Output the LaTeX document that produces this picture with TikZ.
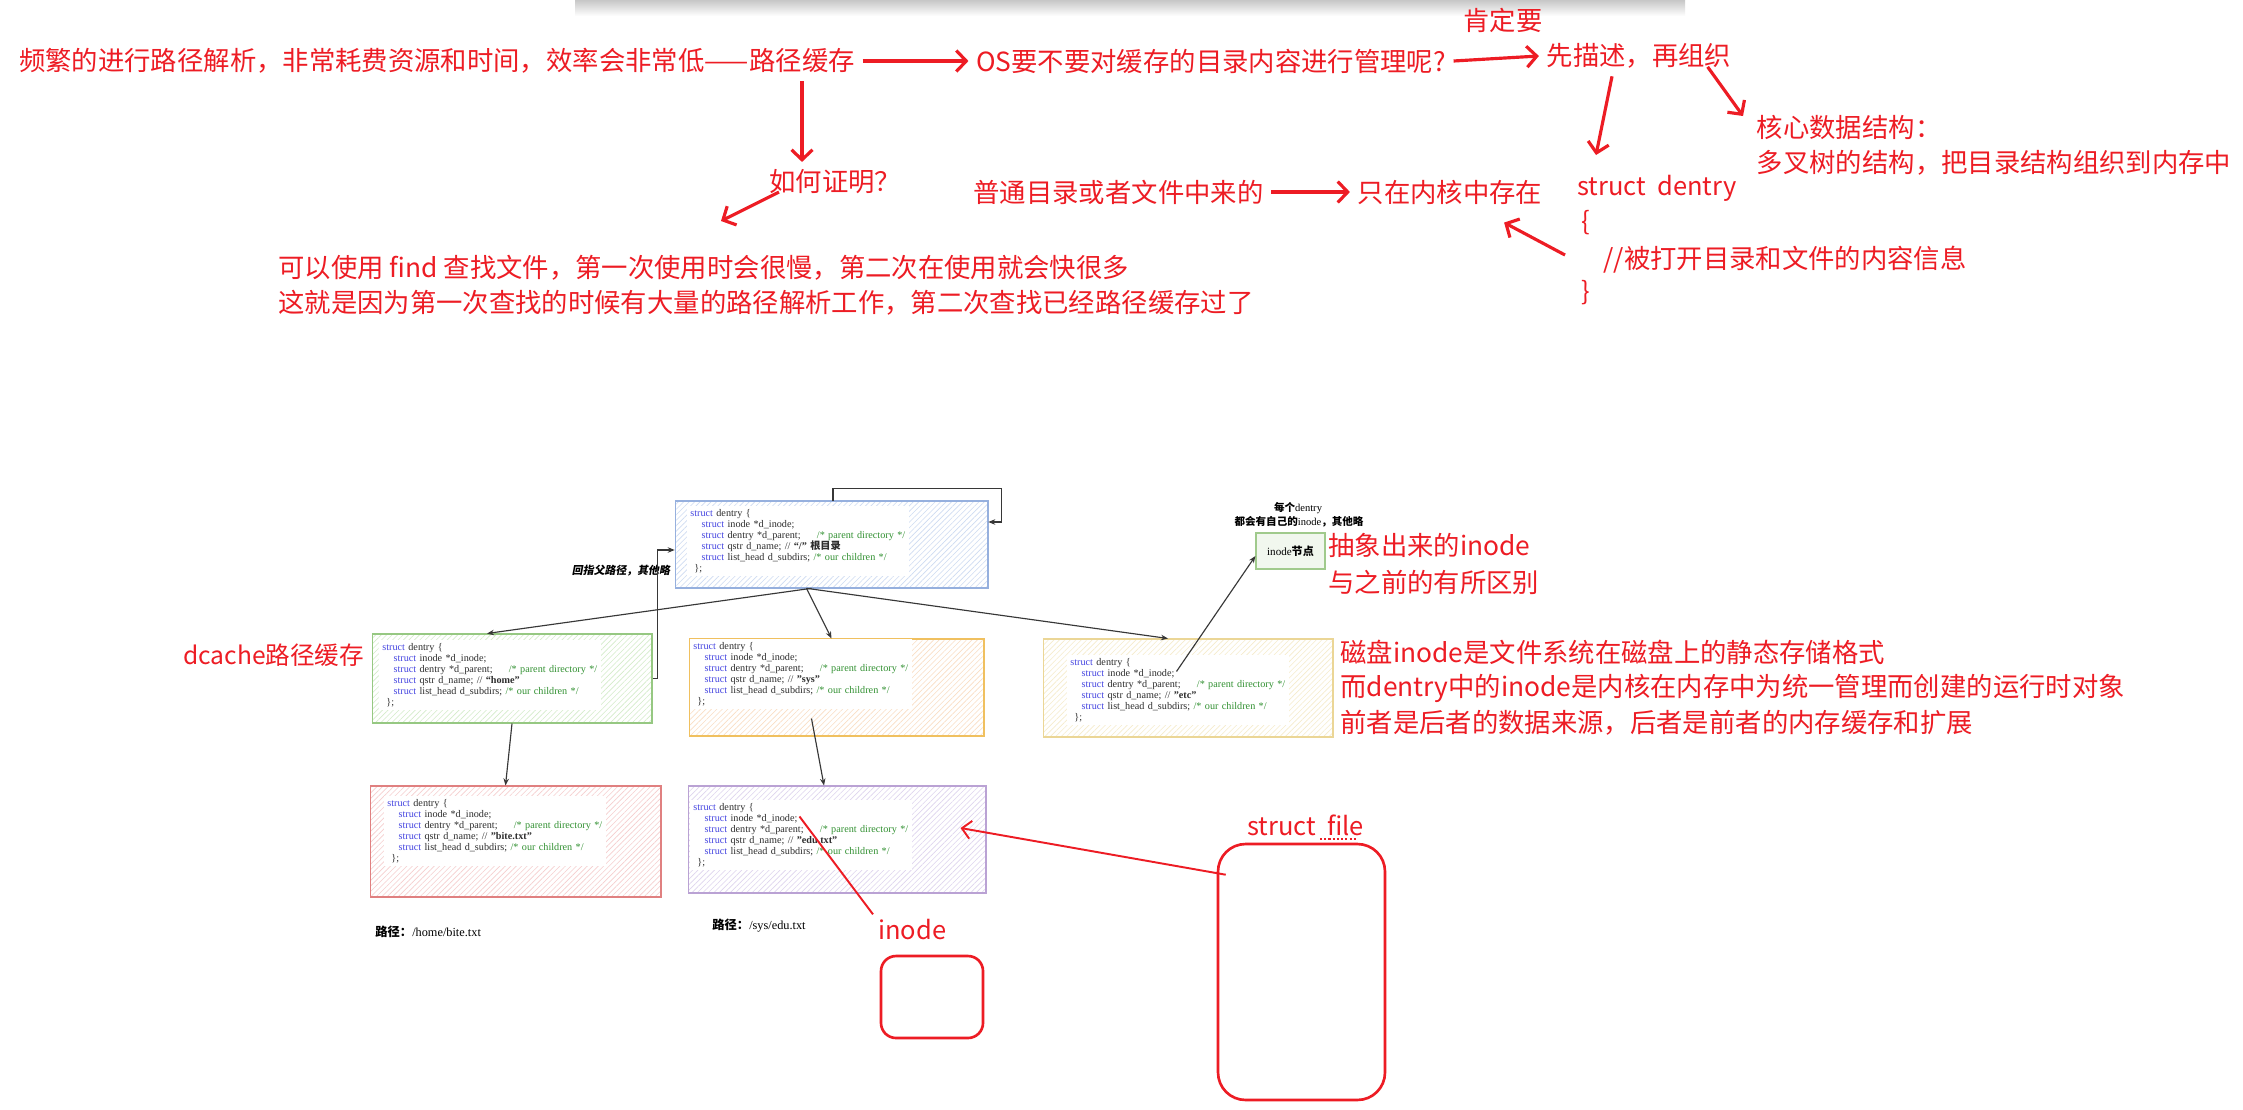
\documentclass[tikz,border=0pt]{standalone}
\usepackage{fontspec}
\setmainfont{Liberation Serif}
\newfontfamily\cjk{Noto Sans CJK SC}
\newfontfamily\cjkslant{Noto Sans CJK SC}[FakeSlant=0.18]
\usetikzlibrary{arrows.meta,positioning,patterns.meta}

\definecolor{inkred}{RGB}{237,28,36}
\definecolor{kwblue}{RGB}{70,70,225}
\definecolor{cmtgreen}{RGB}{50,145,50}
\definecolor{codegray}{RGB}{45,45,45}
\definecolor{linkgray}{RGB}{55,55,55}
\definecolor{rootline}{RGB}{150,176,222}
\definecolor{roothatch}{RGB}{206,219,242}
\definecolor{homeline}{RGB}{150,200,130}
\definecolor{homehatch}{RGB}{212,236,202}
\definecolor{sysline}{RGB}{240,192,95}
\definecolor{syshatch}{RGB}{250,222,196}
\definecolor{etcline}{RGB}{235,214,150}
\definecolor{etchatch}{RGB}{246,236,204}
\definecolor{biteline}{RGB}{224,128,128}
\definecolor{bitehatch}{RGB}{246,206,206}
\definecolor{eduline}{RGB}{186,162,212}
\definecolor{eduhatch}{RGB}{222,212,238}
\definecolor{nodegreen}{RGB}{160,202,140}

% body of every dentry box, #1 = d_name
\newcommand{\dentrycode}[1]{%
  \textcolor{kwblue}{struct} dentry \{\\
  \hspace*{1.1em}\textcolor{kwblue}{struct} inode *d\_inode;\\
  \hspace*{1.1em}\textcolor{kwblue}{struct} dentry *d\_parent;\hspace{1.6em}\textcolor{cmtgreen}{/* parent directory */}\\
  \hspace*{1.1em}\textcolor{kwblue}{struct} qstr d\_name; // #1\\
  \hspace*{1.1em}\textcolor{kwblue}{struct} list\_head d\_subdirs; \textcolor{cmtgreen}{/* our children */}\\
  \hspace*{0.4em}\};}

\begin{document}
\begin{tikzpicture}[
  x=0.02cm, y=-0.02cm,
  note/.style={text=inkred, font=\cjk\fontsize{15}{18}\selectfont, inner sep=0.15cm},
  hand/.style={text=inkred, font=\cjk\fontsize{14.5}{17}\selectfont, inner sep=0.1cm},
  tag/.style={text=black, font=\fontsize{6}{7.2}\selectfont, inner sep=1pt},
  redarrow/.style={draw=inkred, line width=1.8pt, -{Straight Barb[length=0.2cm,width=0.42cm]}},
  redthin/.style={draw=inkred, line width=1.1pt, -{Straight Barb[length=0.18cm,width=0.36cm]}},
  redline/.style={draw=inkred, line width=1.1pt},
  redbox/.style={draw=inkred, line width=1.5pt},
  treearrow/.style={draw=linkgray, line width=0.65pt, -{Stealth[length=0.14cm,width=0.11cm]}},
  dbox/.style={line width=0.6pt, inner sep=0pt, pattern={Lines[angle=45,distance=2.2pt,line width=0.35pt]}},
  codebox/.style={fill=white, anchor=north west, align=left, text width=4.32cm,
    font=\fontsize{5.8}{6.24}\selectfont, text=codegray, inner xsep=0.06cm, inner ysep=0.06cm}
]
\fill[white] (0,0) rectangle (2243,1109);
\useasboundingbox (0,0) rectangle (2243,1109);
\shade[top color=black!22, bottom color=white] (575,0) rectangle (1685,16);

% red notes, top part
\node[note] (cache) at (802,61) {路径缓存};
\node[note, left=-0.3cm of cache] (freq) {频繁的进行路径解析，非常耗费资源和时间，效率会非常低——};
\node[note] (os) at (1211,61) {OS要不要对缓存的目录内容进行管理呢?};
\node[note] (must) at (1503,20) {肯定要};
\node[note] (desc) at (1639,56) {先描述，再组织};
\node[note, anchor=west] (core) at (1749,127) {核心数据结构：};
\node[note, anchor=west] (tree) at (1749,163) {多叉树的结构，把目录结构组织到内存中};
\node[hand, anchor=west] (sdentry) at (1572,188) {struct\ \ dentry};
\node[hand, anchor=west] (lbrace) at (1576,223) {\{};
\node[note, anchor=west] (comment) at (1595.5,260) {//被打开目录和文件的内容信息};
\node[hand, anchor=west] (rbrace) at (1576,293) {\}};
\node[note] (kernel) at (1450,192) {只在内核中存在};
\node[note] (normal) at (1118.5,192) {普通目录或者文件中来的};
\node[note, anchor=west] (proof) at (761.5,182) {如何证明？};
\node[note, anchor=west] (findnote) at (270.5,268) {可以使用 find 查找文件，第一次使用时会很慢，第二次在使用就会快很多};
\node[note, anchor=west] (whynote) at (270.5,303) {这就是因为第一次查找的时候有大量的路径解析工作，第二次查找已经路径缓存过了};
\coordinate (prooftip) at (721,221);
\coordinate (dentrytip) at (1596,155);
\coordinate (coretip) at (1743,116);

\draw[redarrow] (cache.east) -- (os.west);
\draw[redarrow] (cache.south) -- (cache.south |- proof.north);
\draw[redarrow] ([xshift=0.35cm,yshift=0.2cm]proof.south west) -- (prooftip);
\draw[redarrow] (os.east) -- (desc.west);
\draw[redarrow] ([xshift=-0.54cm]desc.south) -- (dentrytip);
\draw[redarrow] ([xshift=-0.63cm,yshift=0.19cm]desc.south east) -- (coretip);
\draw[redarrow] (normal.east) -- (kernel.west);
\draw[redarrow] ([xshift=-0.61cm,yshift=0.1cm]comment.west) -- ([xshift=-0.92cm,yshift=-0.21cm]kernel.south east);

% dentry tree
\node[dbox, draw=rootline, pattern color=roothatch, minimum width=6.26cm, minimum height=1.74cm] (root) at (831.5,544.5) {};
\node[codebox] (rootcode) at (687,506) {\dentrycode{\textbf{“/” {\cjk 根目录}}}};
\node[dbox, draw=homeline, pattern color=homehatch, minimum width=5.6cm, minimum height=1.78cm] (home) at (512,678.5) {};
\node[codebox] (homecode) at (379,640) {\dentrycode{\textbf{“home”}}};
\node[dbox, draw=sysline, pattern color=syshatch, minimum width=5.9cm, minimum height=1.94cm] (sys) at (836.5,687.5) {};
\node[codebox] (syscode) at (690,639) {\dentrycode{\textbf{"sys"}}};
\node[dbox, draw=etcline, pattern color=etchatch, minimum width=5.8cm, minimum height=1.96cm] (etc) at (1188,688) {};
\node[codebox] (etccode) at (1067,655) {\dentrycode{\textbf{"etc"}}};
\node[dbox, draw=biteline, pattern color=bitehatch, minimum width=5.82cm, minimum height=2.22cm] (bite) at (515.5,841.5) {};
\node[codebox] (bitecode) at (384,796) {\dentrycode{\textbf{"bite.txt"}}};
\node[dbox, draw=eduline, pattern color=eduhatch, minimum width=5.96cm, minimum height=2.14cm] (edu) at (837,839.5) {};
\node[codebox] (educode) at (690,800) {\dentrycode{\textbf{"edu.txt"}}};
\node[draw=nodegreen, fill=nodegreen!15, line width=0.7pt, minimum width=1.38cm, minimum height=0.72cm, inner sep=0pt,
  font=\fontsize{6.3}{7.4}\selectfont] (inodenode) at (1290.5,551) {inode{\cjk\bfseries 节点}};

\node[tag, font=\cjkslant\bfseries\fontsize{6.2}{7.4}\selectfont] (backlbl) at (621,571) {回指父路径，其他略};
\node[tag] (each1) at (1298,508) {{\cjk\bfseries 每个}dentry};
\node[tag] (each2) at (1299,522) {{\cjk\bfseries 都会有自己的}inode{\cjk\bfseries ，其他略}};
\node[tag, anchor=west, inner sep=0pt, font=\fontsize{7}{8.4}\selectfont] (path1) at (375,932) {{\cjk\bfseries 路径：}/home/bite.txt};
\node[tag, anchor=west, inner sep=0pt, font=\fontsize{7}{8.4}\selectfont] (path2) at (712,926) {{\cjk\bfseries 路径：}/sys/edu.txt};

\draw[treearrow] ([xshift=0.03cm]root.north) |- ([xshift=0.26cm,yshift=0.24cm]root.north east) |- ([yshift=0.45cm]root.east);
\draw[treearrow] (home.east) -- ++(5,0) |- ([yshift=-0.11cm]root.west);
\draw[treearrow] ([xshift=-0.4cm]root.south) -- ([xshift=-0.5cm]home.north);
\draw[treearrow] ([xshift=-0.5cm]root.south) -- ([xshift=-0.1cm]sys.north);
\draw[treearrow] ([xshift=-0.5cm]root.south) -- ([xshift=-0.4cm]etc.north);
\draw[treearrow] (home.south) -- ([xshift=-0.2cm]bite.north);
\draw[treearrow] ([xshift=-0.5cm,yshift=0.36cm]sys.south) -- ([xshift=-0.26cm]edu.north);
\draw[treearrow] ([xshift=2.68cm,yshift=-0.66cm]etc.north west) -- ([yshift=-0.1cm]inodenode.west);

% red notes, bottom part
\node[note, anchor=west] (abstract) at (1320.5,545) {抽象出来的inode};
\node[note, anchor=west] (differ) at (1320.5,582) {与之前的有所区别};
\node[note, anchor=west] (disk1) at (1332.5,652) {磁盘inode是文件系统在磁盘上的静态存储格式};
\node[note, anchor=west] (disk2) at (1332.5,688) {而dentry中的inode是内核在内存中为统一管理而创建的运行时对象};
\node[note, anchor=west] (disk3) at (1332.5,723) {前者是后者的数据来源，后者是前者的内存缓存和扩展};
\node[note, font=\cjk\fontsize{14}{17}\selectfont, anchor=east] (dcache) at (372,655) {dcache路径缓存};

\node[hand, anchor=west] (inodelbl) at (873,930) {inode};
\node[redbox, rounded corners=0.3cm, minimum width=2.04cm, minimum height=1.64cm] (inodecell) at (932,997) {};
\node[hand, anchor=west] (filelbl) at (1242,825) {struct\ \ file};
\draw[inkred, line width=1pt, dash pattern=on 1.2pt off 1.2pt] (1320,839) -- (1356,839);
\node[redbox, rounded corners=0.55cm, minimum width=3.34cm, minimum height=5.12cm] (filebox) at (1301.5,972) {};

\draw[redline] ([xshift=2.24cm,yshift=-0.62cm]edu.north west) -- (inodelbl.north west);
\draw[redthin] ([xshift=0.18cm,yshift=-0.64cm]filebox.north west) -- ([xshift=-0.52cm,yshift=0.23cm]edu.east);

\end{tikzpicture}
\end{document}
